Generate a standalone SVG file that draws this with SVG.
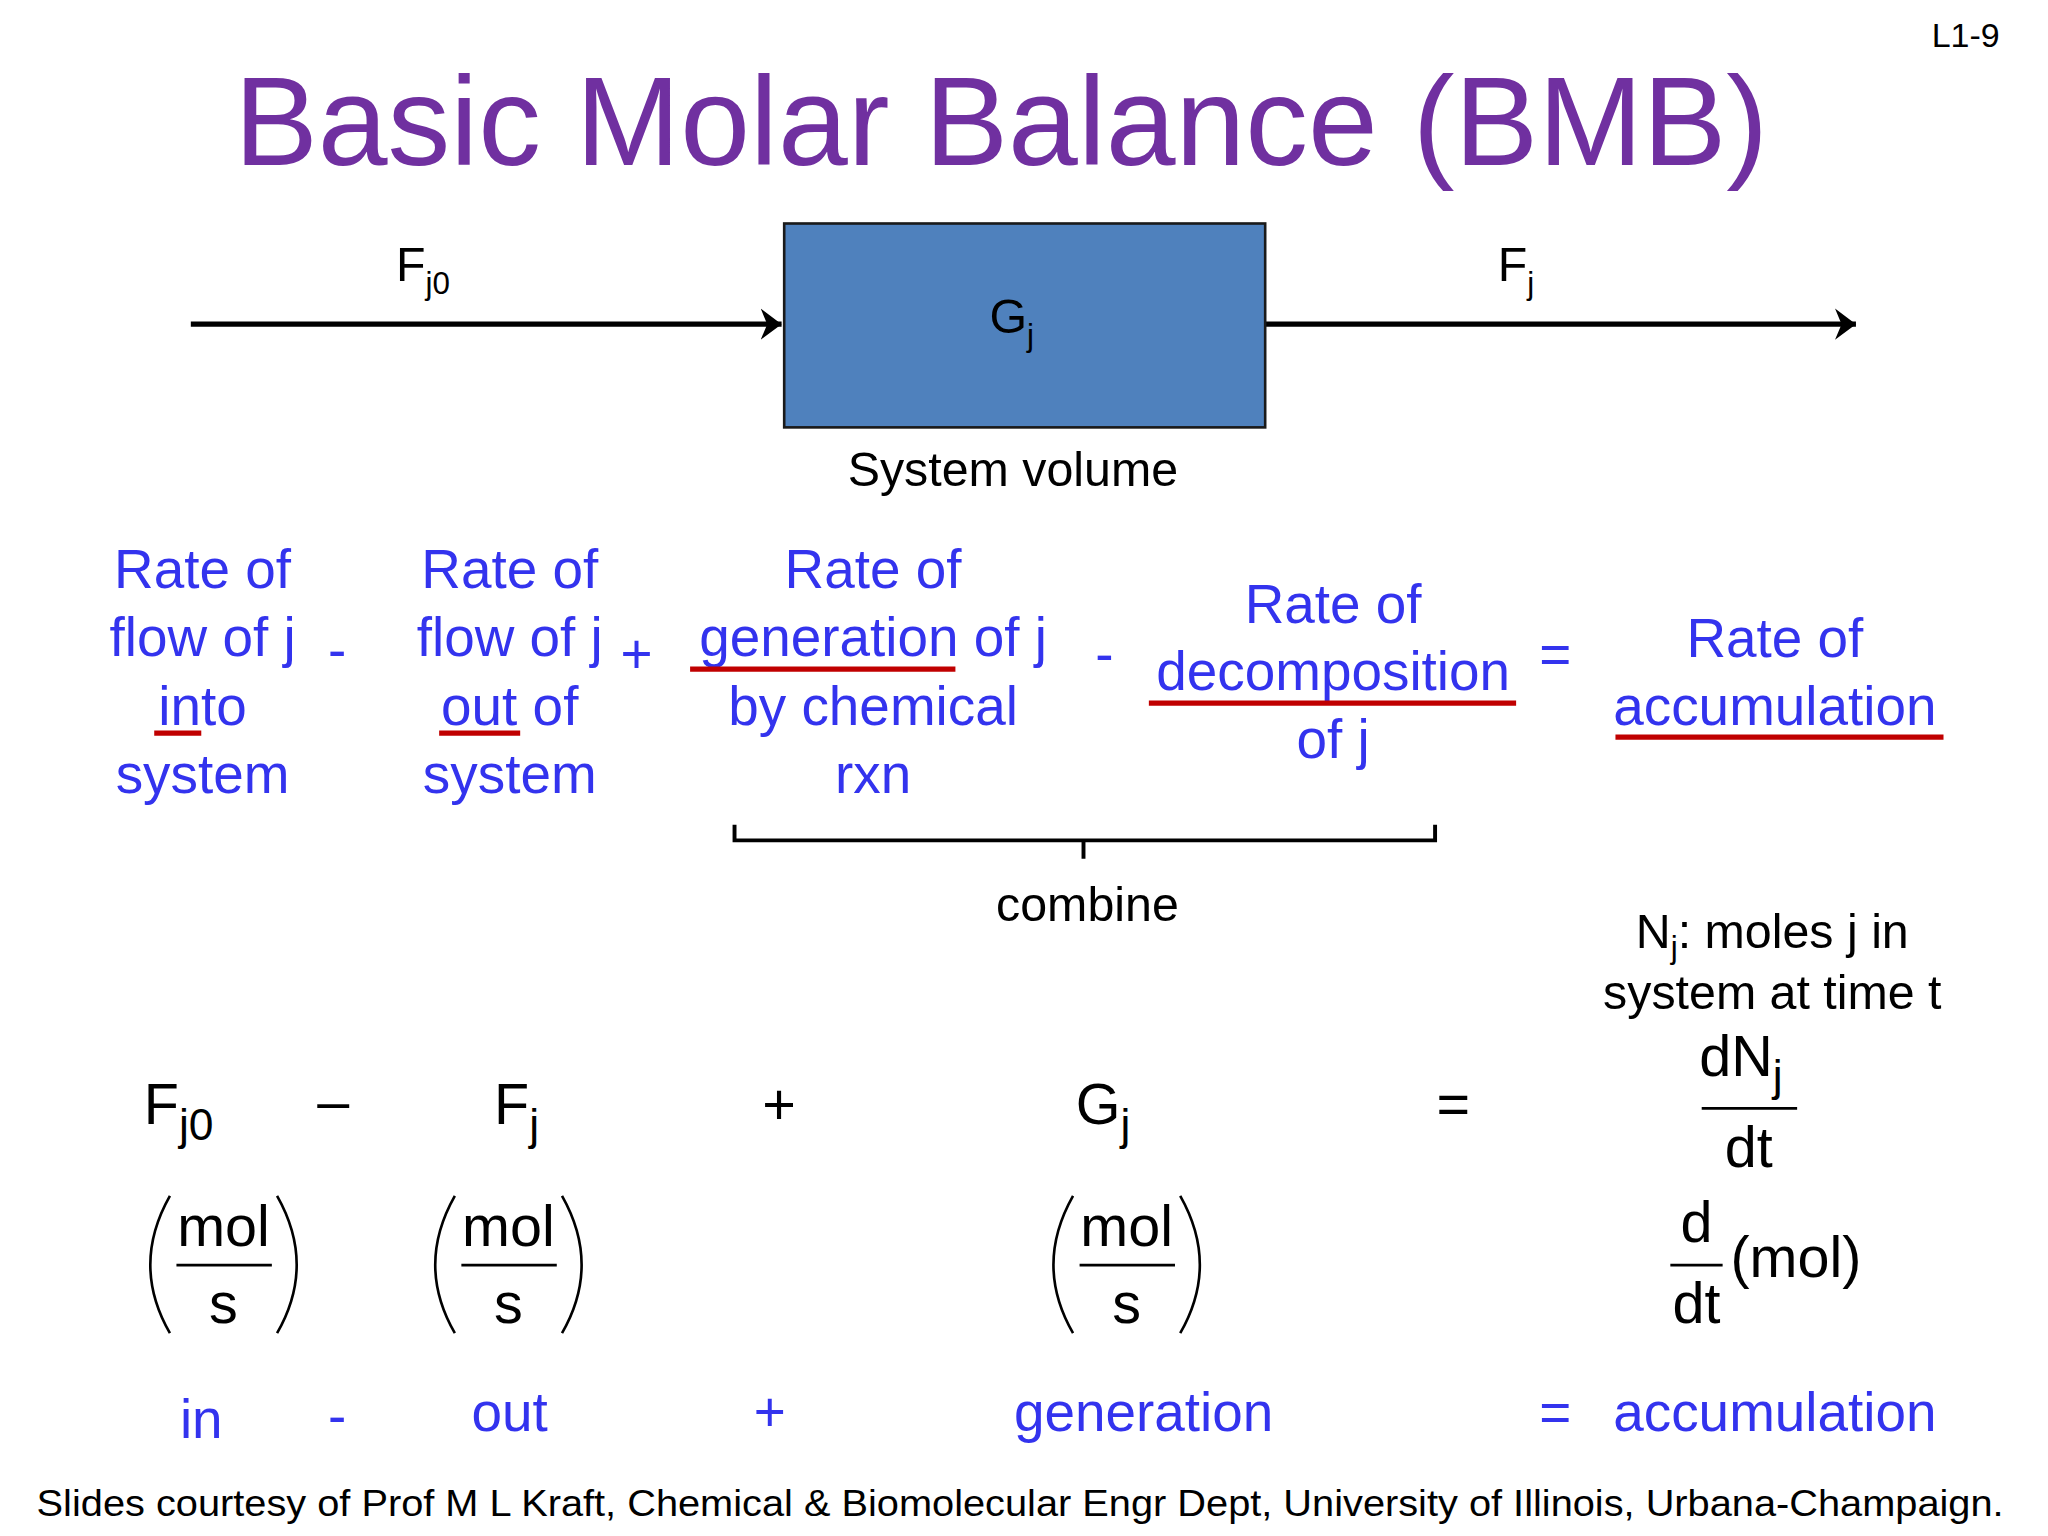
<svg xmlns="http://www.w3.org/2000/svg" width="2048" height="1536" viewBox="0 0 2048 1536">
<style>
text{font-family:"Liberation Sans",Arial,sans-serif}
.b{fill:#3333EE;font-size:42px;text-anchor:middle}
.k{fill:#000;font-size:37px}
.m{fill:#000;font-size:44px}
.c{text-anchor:middle}
.u{stroke:#C00000;stroke-width:4}
.ln{stroke:#000;stroke-width:2;fill:none}
</style>
<defs><marker id="ah" markerWidth="18" markerHeight="24" refX="16" refY="12" orient="auto" markerUnits="userSpaceOnUse"><path d="M0,0 L16,12 L0,24 L5,12 Z" fill="#000"/></marker></defs>
<rect width="2048" height="1536" fill="#fff"/>
<g transform="scale(1.307)">
<text x="766" y="126" font-size="96" fill="#7030A0" text-anchor="middle">Basic Molar Balance (BMB)</text>
<text x="1530" y="36" font-size="26" text-anchor="end">L1-9</text>
<g id="connectors">
<line x1="146" y1="248" x2="598" y2="248" stroke="#000" stroke-width="4" marker-end="url(#ah)"/>
<line x1="968" y1="248" x2="1420" y2="248" stroke="#000" stroke-width="4" marker-end="url(#ah)"/>
</g>
<g id="box">
<rect x="600" y="171" width="368" height="156" fill="#4F81BD" stroke="#1a1a1a" stroke-width="2"/>
<text x="757" y="255" class="k">G<tspan font-size="24" dy="10">j</tspan></text>
<text x="775" y="372" class="k c">System volume</text>
</g>
<text x="303" y="215" class="k">F<tspan font-size="24" dy="10">j0</tspan></text>
<text x="1146" y="215" class="k">F<tspan font-size="24" dy="10">j</tspan></text>
<g id="words">
<text class="b"><tspan x="155" y="450">Rate of</tspan><tspan x="155" y="502">flow of j</tspan><tspan x="155" y="555">into</tspan><tspan x="155" y="607">system</tspan></text>
<text x="258" y="512" class="b" font-size="30">-</text>
<text class="b"><tspan x="390" y="450">Rate of</tspan><tspan x="390" y="502">flow of j</tspan><tspan x="390" y="555">out of</tspan><tspan x="390" y="607">system</tspan></text>
<text x="487" y="515" class="b" font-size="30">+</text>
<text class="b"><tspan x="668" y="450">Rate of</tspan><tspan x="668" y="502">generation of j</tspan><tspan x="668" y="555">by chemical</tspan><tspan x="668" y="607">rxn</tspan></text>
<text x="845" y="515" class="b" font-size="30">-</text>
<text class="b"><tspan x="1020" y="477">Rate of</tspan><tspan x="1020" y="528">decomposition</tspan><tspan x="1020" y="580">of j</tspan></text>
<text x="1190" y="515" class="b" font-size="30">=</text>
<text class="b"><tspan x="1358" y="503">Rate of</tspan><tspan x="1358" y="555">accumulation</tspan></text>
<line x1="118" y1="561" x2="154" y2="561" class="u"/>
<line x1="336" y1="561" x2="398" y2="561" class="u"/>
<line x1="528" y1="512" x2="731" y2="512" class="u"/>
<line x1="879" y1="538" x2="1160" y2="538" class="u"/>
<line x1="1236" y1="564" x2="1487" y2="564" class="u"/>
</g>
<path d="M562,631 V643 H1098 V631 M829,643 V657" stroke="#000" stroke-width="3" fill="none"/>
<text x="832" y="705" class="k c">combine</text>
<text class="k c"><tspan x="1356" y="725">N<tspan font-size="24" dy="8">j</tspan><tspan dy="-8">: moles j in</tspan></tspan><tspan x="1356" y="772">system at time t</tspan></text>
<g id="equation">
<text x="110" y="860" class="m">F<tspan font-size="34" dy="12">j0</tspan></text>
<text x="255" y="858" class="m c">–</text>
<text x="378" y="860" class="m">F<tspan font-size="34" dy="12">j</tspan></text>
<text x="596" y="860" class="m c">+</text>
<text x="823" y="860" class="m">G<tspan font-size="34" dy="12">j</tspan></text>
<text x="1112" y="860" class="m c">=</text>
<text x="1332" y="823" class="m c">dN<tspan font-size="34" dy="12">j</tspan></text>
<line x1="1302" y1="848" x2="1375" y2="848" class="ln"/>
<text x="1338" y="893" class="m c">dt</text>
<g>
<text x="171" y="953" class="m c">mol</text><line x1="135" y1="968" x2="208" y2="968" class="ln"/><text x="171" y="1012" class="m c">s</text>
<path d="M130,915 Q100,968 130,1020 M212,915 Q242,968 212,1020" class="ln"/>
</g>
<g>
<text x="389" y="953" class="m c">mol</text><line x1="353" y1="968" x2="426" y2="968" class="ln"/><text x="389" y="1012" class="m c">s</text>
<path d="M348,915 Q318,968 348,1020 M430,915 Q460,968 430,1020" class="ln"/>
</g>
<g>
<text x="862" y="953" class="m c">mol</text><line x1="826" y1="968" x2="899" y2="968" class="ln"/><text x="862" y="1012" class="m c">s</text>
<path d="M821,915 Q791,968 821,1020 M903,915 Q933,968 903,1020" class="ln"/>
</g>
<text x="1298" y="950" class="m c">d</text>
<line x1="1278" y1="968" x2="1318" y2="968" class="ln"/>
<text x="1298" y="1012" class="m c">dt</text>
<text x="1324" y="977" class="m">(mol)</text>
</g>
<g id="bottom">
<text x="154" y="1100" class="b">in</text>
<text x="258" y="1098" class="b" font-size="30">-</text>
<text x="390" y="1095" class="b">out</text>
<text x="589" y="1095" class="b" font-size="30">+</text>
<text x="875" y="1095" class="b">generation</text>
<text x="1190" y="1095" class="b" font-size="30">=</text>
<text x="1358" y="1095" class="b">accumulation</text>
</g>
<text x="28" y="1160" font-size="28" textLength="1505" lengthAdjust="spacingAndGlyphs">Slides courtesy of Prof M L Kraft, Chemical &amp; Biomolecular Engr Dept, University of Illinois, Urbana-Champaign.</text>
</g>
</svg>
